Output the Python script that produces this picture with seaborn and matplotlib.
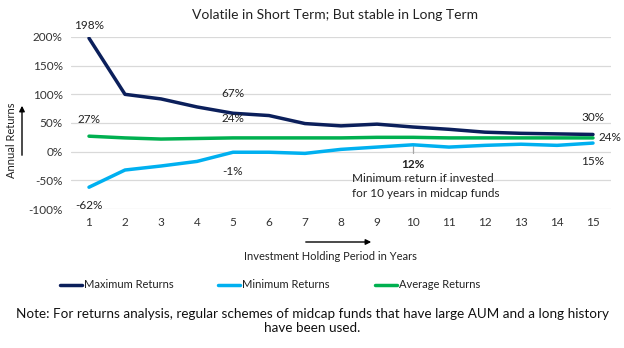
import numpy as np
import pandas as pd
import matplotlib
matplotlib.use("Agg")
import matplotlib.pyplot as plt
import seaborn as sns

years = list(range(1, 16))
max_returns = [198, 100, 92, 78, 67, 63, 49, 45, 48, 43, 39, 34, 32, 31, 30]
min_returns = [-62, -32, -25, -17, -1, -1, -3, 4, 8, 12, 8, 11, 13, 11, 15]
avg_returns = [27, 24, 22, 23, 24, 24, 24, 24, 25, 25, 24, 24, 24, 24, 24]
series_names = ["Maximum Returns", "Minimum Returns", "Average Returns"]
series_colors = ["#0B1F5B", "#00B0F0", "#00B050"]
y_ticks = [-100, -50, 0, 50, 100, 150, 200]

sns.set_theme(style="white")
plt.rcParams["font.family"] = ["Lato", "DejaVu Sans"]

df = pd.DataFrame({
    "Year": years * 3,
    "Return": max_returns + min_returns + avg_returns,
    "Series": [series_names[0]] * 15 + [series_names[1]] * 15 + [series_names[2]] * 15,
})

fig = plt.figure(figsize=(6.24, 3.48), dpi=100)
ax = fig.add_axes([71 / 624, 1 - 209 / 348, 540 / 624, 172 / 348])

sns.lineplot(data=df, x="Year", y="Return", hue="Series", palette=series_colors,
             hue_order=series_names, linewidth=2.5, ax=ax, legend=False, zorder=3)

ax.set_xlim(0.5, 15.5)
ax.set_ylim(-100, 200)
ax.set_yticks(y_ticks)
ax.set_yticklabels([f"{v}%" for v in y_ticks], fontsize=8.5, color="#333333")
ax.set_xticks(years)
ax.set_xticklabels([str(y) for y in years], fontsize=8.5, color="#333333")
ax.tick_params(axis="both", length=0, pad=6)
ax.yaxis.grid(True, color="#D9D9D9", linewidth=0.9)
ax.xaxis.grid(False)
for s in ax.spines.values():
    s.set_visible(False)
ax.set_xlabel("")
ax.set_ylabel("")

fs = 8.5
tc = "#222222"
# value labels
ax.annotate(f"{max_returns[0]}%", (1, max_returns[0]), xytext=(0, 5), textcoords="offset points",
            ha="center", va="bottom", fontsize=fs, color=tc)
ax.annotate(f"{avg_returns[0]}%", (1, avg_returns[0]), xytext=(0, 8), textcoords="offset points",
            ha="center", va="bottom", fontsize=fs, color=tc)
ax.annotate(f"{min_returns[0]}%", (1, min_returns[0]), xytext=(0, -9), textcoords="offset points",
            ha="center", va="top", fontsize=fs, color=tc)
ax.annotate(f"{max_returns[4]}%", (5, max_returns[4]), xytext=(0, 10), textcoords="offset points",
            ha="center", va="bottom", fontsize=fs, color=tc)
ax.annotate(f"{avg_returns[4]}%", (5, avg_returns[4]), xytext=(0, 10), textcoords="offset points",
            ha="center", va="bottom", fontsize=fs, color=tc)
ax.annotate(f"{min_returns[4]}%", (5, min_returns[4]), xytext=(0, -10), textcoords="offset points",
            ha="center", va="top", fontsize=fs, color=tc)
ax.annotate(f"{max_returns[14]}%", (15, max_returns[14]), xytext=(0, 8), textcoords="offset points",
            ha="center", va="bottom", fontsize=fs, color=tc)
ax.annotate(f"{avg_returns[14]}%", (15, avg_returns[14]), xytext=(4, 0), textcoords="offset points",
            ha="left", va="center", fontsize=fs, color=tc)
ax.annotate(f"{min_returns[14]}%", (15, min_returns[14]), xytext=(0, -9), textcoords="offset points",
            ha="center", va="top", fontsize=fs, color=tc)

# callout at year 10
ax.plot([10, 10], [min_returns[9] - 2, min_returns[9] - 14], color="#A6A6A6", linewidth=0.9, zorder=2)
ax.annotate(f"{min_returns[9]}%", (10, min_returns[9]), xytext=(0, -10), textcoords="offset points",
            ha="center", va="top", fontsize=fs, color=tc, fontweight="bold")
ax.annotate("Minimum return if invested\nfor 10 years in midcap funds", (10, min_returns[9]),
            xytext=(-44, -20), textcoords="offset points", ha="left", va="top",
            fontsize=fs, color=tc, linespacing=1.45)

# title and axis captions
fig.text(0.537, 1 - 15 / 348, "Volatile in Short Term; But stable in Long Term",
         ha="center", va="center", fontsize=10, color="#222222")
fig.text(12 / 624, 1 - 140 / 348, "Annual Returns", rotation=90, ha="center", va="center",
         fontsize=8, color=tc)
fig.add_artist(matplotlib.patches.FancyArrowPatch(
    (22 / 624, 1 - 158 / 348), (22 / 624, 1 - 103 / 348), transform=fig.transFigure,
    arrowstyle="-|>", mutation_scale=8, color="black", linewidth=1))
fig.text(330 / 624, 1 - 256 / 348, "Investment Holding Period in Years", ha="center", va="center",
         fontsize=8, color=tc)
fig.add_artist(matplotlib.patches.FancyArrowPatch(
    (303 / 624, 1 - 242 / 348), (374 / 624, 1 - 242 / 348), transform=fig.transFigure,
    arrowstyle="-|>", mutation_scale=8, color="black", linewidth=1))

# legend
for name, col, x0 in zip(series_names, series_colors, [60, 218, 375]):
    fig.add_artist(matplotlib.lines.Line2D([x0 / 624, (x0 + 22) / 624], [1 - 285 / 348] * 2,
                                           color=col, linewidth=2.5, transform=fig.transFigure))
    fig.text((x0 + 24) / 624, 1 - 285 / 348, name, ha="left", va="center", fontsize=8, color=tc)

fig.text(0.5, 1 - 321 / 348,
         "Note: For returns analysis, regular schemes of midcap funds that have large AUM and a long history\nhave been used.",
         ha="center", va="center", fontsize=9.7, color="#111111", linespacing=1.3)

fig.savefig("out.png", dpi=100, facecolor="white")
